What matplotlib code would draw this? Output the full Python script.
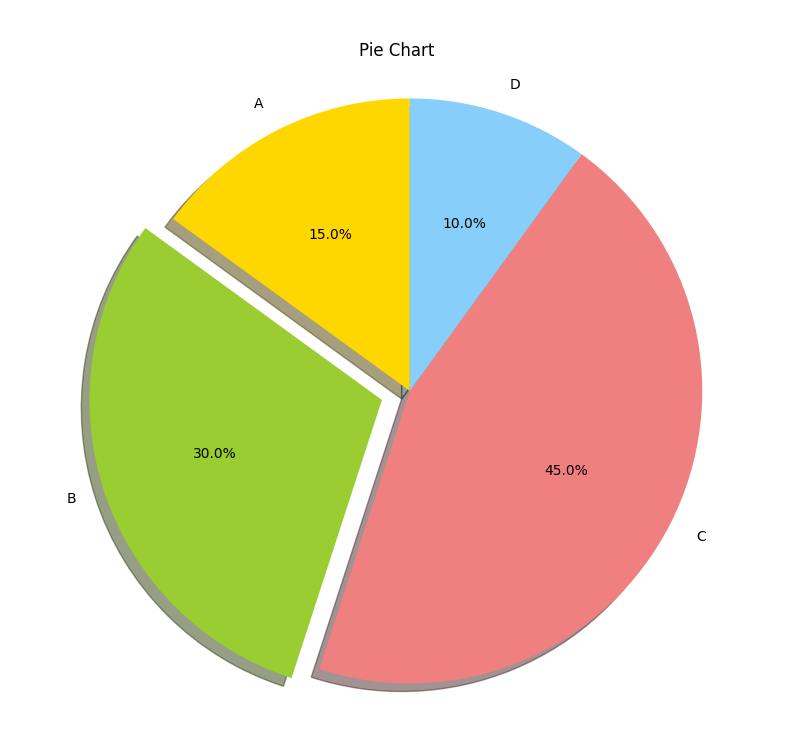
import matplotlib
matplotlib.use("Agg")
import matplotlib.pyplot as plt

labels = ['A', 'B', 'C', 'D']
sizes = [15, 30, 45, 10]
colors = ['gold', 'yellowgreen', 'lightcoral', 'lightskyblue']
explode = (0, 0.1, 0, 0)

fig = plt.figure(figsize=(7.88, 7.48), dpi=100)
ax = fig.add_axes([0.106, 0.0414, 0.828, 0.872])

ax.pie(sizes, explode=explode, labels=labels, colors=colors,
       autopct='%1.1f%%', shadow=True, startangle=90)
ax.set_xlim(-1.115, 1.115)
ax.set_ylim(-1.115, 1.115)
ax.set_aspect('equal')
ax.set_title('Pie Chart', x=0.48)

fig.savefig('out.png', dpi=100)
